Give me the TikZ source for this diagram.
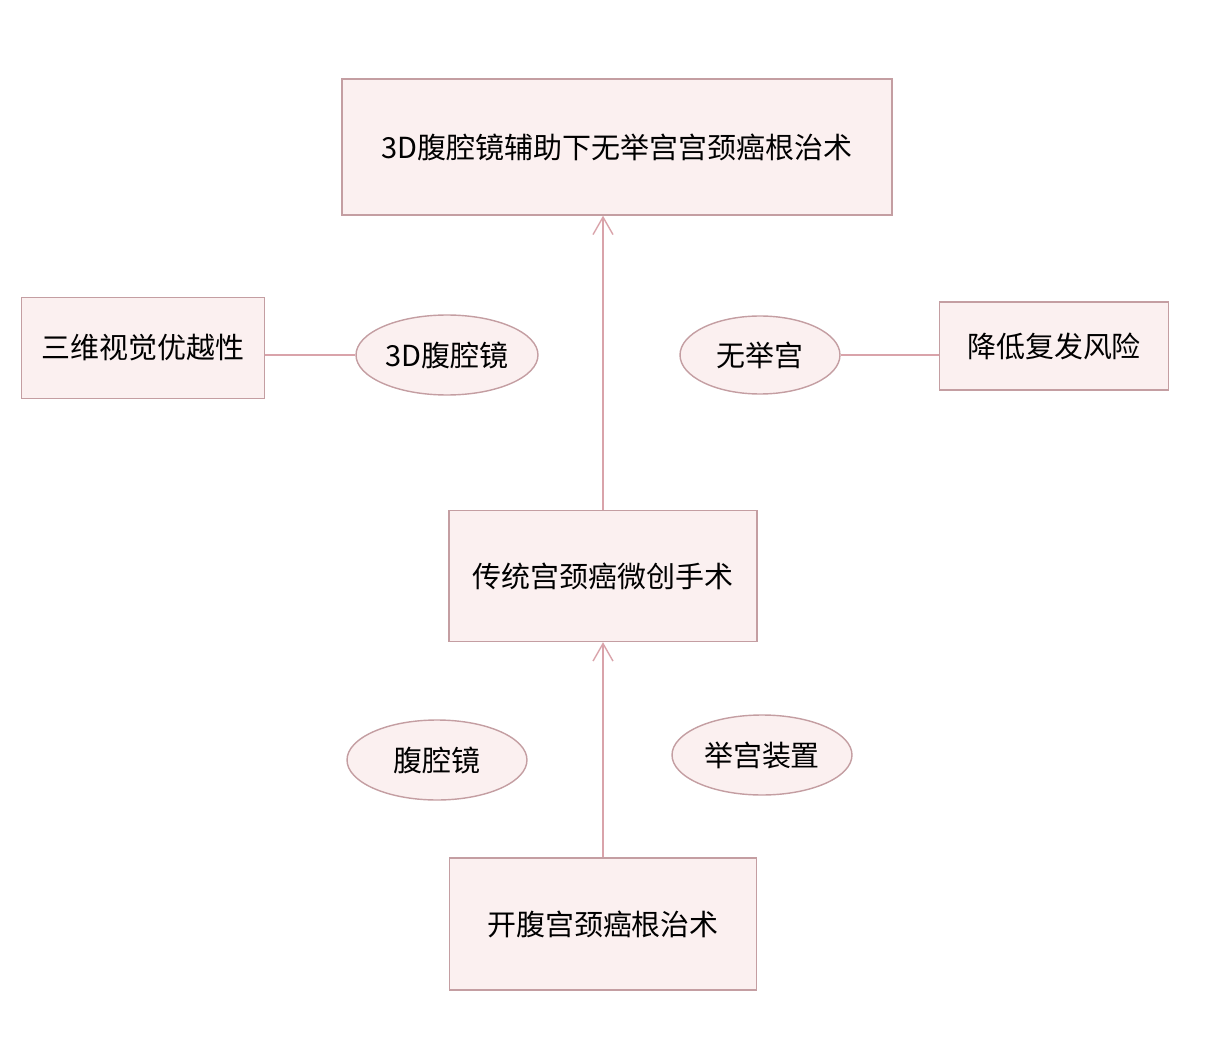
\documentclass[tikz,border=0pt]{standalone}
\usepackage{fontspec}
\setmainfont{Noto Sans CJK SC}
\usetikzlibrary{shapes.geometric,arrows.meta}
\definecolor{boxfill}{HTML}{FBF0F0}
\definecolor{boxline}{HTML}{C49EA2}
\definecolor{arrowline}{HTML}{D9A3AA}
\tikzset{
    stap/.style={draw=boxline, fill=boxfill, thick, inner sep=0pt, font=\fontsize{16.5}{19}\selectfont},
    kenmerk/.style={ellipse, draw=boxline, fill=boxfill, thick, inner sep=0pt, font=\fontsize{16.5}{19}\selectfont},
    pijl/.style={-{Straight Barb[length=3.5mm,width=4mm]}, arrowline, thick},
    lijn/.style={arrowline, thick}
}
\begin{document}
\begin{tikzpicture}[x=0.02cm, y=-0.02cm]
    \useasboundingbox (0,0) rectangle (1210,1040);
    % rechthoeken
    \node[stap, minimum width=11cm, minimum height=2.72cm] (top) at (617,147) {3D腹腔镜辅助下无举宫宫颈癌根治术};
    \node[stap, minimum width=4.86cm, minimum height=2.02cm] (drie) at (143,348) {三维视觉优越性};
    \node[stap, minimum width=4.58cm, minimum height=1.76cm] (risico) at (1054,346) {降低复发风险};
    \node[stap, minimum width=6.16cm, minimum height=2.62cm] (mid) at (603,576) {传统宫颈癌微创手术};
    \node[stap, minimum width=6.14cm, minimum height=2.64cm] (open) at (603,924) {开腹宫颈癌根治术};
    % ellipsen
    \node[kenmerk, minimum width=3.64cm, minimum height=1.6cm] (lap3d) at (447,355) {3D腹腔镜};
    \node[kenmerk, minimum width=3.2cm, minimum height=1.56cm] (geen) at (760,355) {无举宫};
    \node[kenmerk, minimum width=3.6cm, minimum height=1.6cm] (lap) at (437,760) {腹腔镜};
    \node[kenmerk, minimum width=3.6cm, minimum height=1.6cm] (manip) at (762,755) {举宫装置};
    % verbindingen
    \draw[pijl] (open.north) -- (mid.south);
    \draw[pijl] (mid.north) -- (mid.north |- top.south);
    \draw[lijn] (lap3d.west -| drie.east) -- (lap3d.west);
    \draw[lijn] (geen.east) -- (geen.east -| risico.west);
\end{tikzpicture}
\end{document}
